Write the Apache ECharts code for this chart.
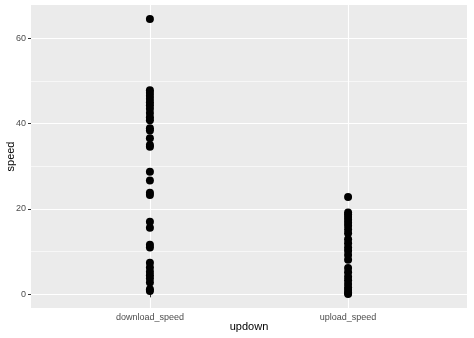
<!DOCTYPE html>
<html><head><meta charset="utf-8">
<script src="https://cdn.jsdelivr.net/npm/echarts@6/dist/echarts.min.js"></script>
<style>html,body{margin:0;padding:0;background:#fff}#c{width:474px;height:338px}</style>
</head><body><div id="c"></div>
<script>
const categories = ['download_speed', 'upload_speed'];
const downloadSpeed = [64.5, 47.8, 47.2, 46.5, 45.8, 45, 44.3, 43.5, 42.5, 41.5, 40.8, 38.9, 38.4, 36.6, 35, 34.6,
  28.7, 26.7, 23.8, 23.3, 17, 15.6, 11.6, 11.0, 7.4, 6.3, 5.3, 4.5, 3.7, 2.8, 1.2, 0.8];
const uploadSpeed = [22.8, 19.2, 18.7, 18.1, 17.5, 16.8, 16.1, 15.2, 14.3, 12.9, 12.0, 11.0, 10.2, 9.2, 8.1, 6.2, 5.2,
  4.1, 3.3, 2.4, 1.6, 1.0, 0.4, 0.1];
const yTicks = [0, 20, 40, 60];
const yMinor = [10, 30, 50];
const seriesValues = [downloadSpeed, uploadSpeed];

const data = [];
seriesValues.forEach((arr, i) => arr.forEach(v => data.push([i + 1, v])));

const chart = echarts.init(document.getElementById('c'), null, {renderer: 'canvas'});
const labelStyle = {color: '#4D4D4D', fontSize: 9, fontFamily: 'Liberation Sans, Arial'};
chart.setOption({
  animation: false,
  grid: {left: 31, right: 7, top: 5, bottom: 30, show: true, backgroundColor: '#EBEBEB', borderWidth: 0,
    containLabel: false, outerBoundsMode: 'none'},
  xAxis: {
    type: 'value', min: 0.4, max: 2.6,
    name: 'updown', nameLocation: 'middle', nameGap: 13, nameMoveOverlap: false,
    nameTextStyle: {color: '#000', fontSize: 11, fontFamily: 'Liberation Sans, Arial'},
    axisLine: {show: false},
    axisTick: {show: true, length: 3, lineStyle: {color: '#333', width: 1}, customValues: [1, 2]},
    axisLabel: Object.assign({customValues: [1, 2], margin: 5, formatter: v => categories[Math.round(v) - 1] || ''}, labelStyle),
    splitLine: {show: true, lineStyle: {color: '#fff', width: 1.1}}
  },
  yAxis: {
    type: 'value', min: -3.2, max: 67.8,
    name: 'speed', nameLocation: 'middle', nameGap: 15, nameRotate: 90, nameMoveOverlap: false,
    nameTextStyle: {color: '#000', fontSize: 11, fontFamily: 'Liberation Sans, Arial'},
    axisLine: {show: false},
    axisTick: {show: true, length: 3, lineStyle: {color: '#333', width: 1}, customValues: yTicks},
    axisLabel: Object.assign({customValues: yTicks, margin: 5}, labelStyle),
    splitLine: {show: true, lineStyle: {color: '#fff', width: 1.1}}
  },
  series: [{
    type: 'scatter', data: data, symbolSize: 8,
    itemStyle: {color: '#000', opacity: 1},
    markLine: {
      silent: true, symbol: ['none', 'none'], label: {show: false},
      lineStyle: {color: '#fff', width: 0.6, type: 'solid', opacity: 1},
      emphasis: {disabled: true},
      data: yMinor.map(v => ({yAxis: v})),
      z: 0
    },
    z: 3
  }]
});
</script></body></html>
